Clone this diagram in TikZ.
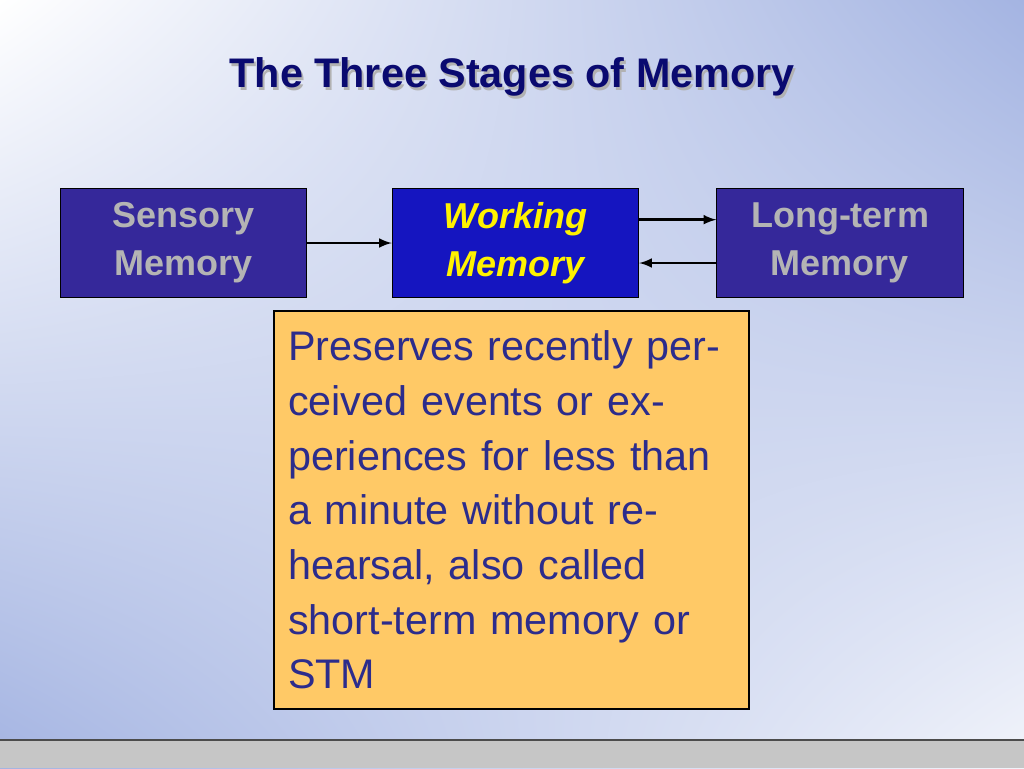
\documentclass[tikz,border=0pt]{standalone}
\usepackage{fontspec}
\setmainfont{Liberation Sans}
\usetikzlibrary{shadings}
\definecolor{bgblue}{HTML}{A4B4E2}
\definecolor{boxind}{HTML}{35289A}
\definecolor{wblue}{HTML}{1515C0}
\definecolor{boxgray}{HTML}{B4B4B4}
\definecolor{orangefill}{HTML}{FFC966}
\definecolor{txtblue}{HTML}{2C2C8C}
\definecolor{titleblue}{HTML}{0A0A70}
\colorlet{bgpale}{white!85!bgblue}
\tikzset{
 stage/.style={draw=black, line width=0.6pt, minimum width=185pt, minimum height=82pt, align=center, font=\fontsize{27}{36}\selectfont\bfseries},
 conn/.style={-latex, line width=2.2pt}
}
\begin{document}
\begin{tikzpicture}[x=0.75pt,y=-0.75pt]
\useasboundingbox (0,0) rectangle (1024,768);
\shade[upper left=white, upper right=bgblue, lower left=bgblue, lower right=bgpale] (0,0) rectangle (1024,768);
\fill[gray!45] (0,740) rectangle (1024,768);
\draw[gray!60!black, line width=1pt] (0,740) -- (1024,740);
\node[text=gray!60, font=\fontsize{31}{36}\selectfont\bfseries] at (514,80) {The Three Stages of Memory};
\node (title) [text=titleblue, font=\fontsize{31}{36}\selectfont\bfseries] at (512,77) {The Three Stages of Memory};
\node (sens) [stage, fill=boxind, text=boxgray] at (183.5,243) {Sensory\\Memory};
\node (work) [stage, fill=wblue, text=yellow, font=\fontsize{27}{36}\selectfont\bfseries\itshape] at (515.5,243) {Working\\Memory};
\node (long) [stage, fill=boxind, text=boxgray] at (840,243) {Long-term\\Memory};
\draw[conn] (sens.east) -- (work.west);
\draw[conn] ([yshift=17.5pt]work.east) -- ([yshift=17.5pt]long.west);
\draw[conn] ([yshift=-15pt]long.west) -- ([yshift=-15pt]work.east);
\node (desc) [draw=black, line width=1.5pt, fill=orangefill, text=txtblue, minimum width=356pt, minimum height=298pt, text width=335pt, align=left, font=\fontsize{31}{41}\selectfont] at (511.5,510) {Preserves recently perceived events or experiences for less than a minute without rehearsal, also called short-term memory or STM};
\end{tikzpicture}
\end{document}
